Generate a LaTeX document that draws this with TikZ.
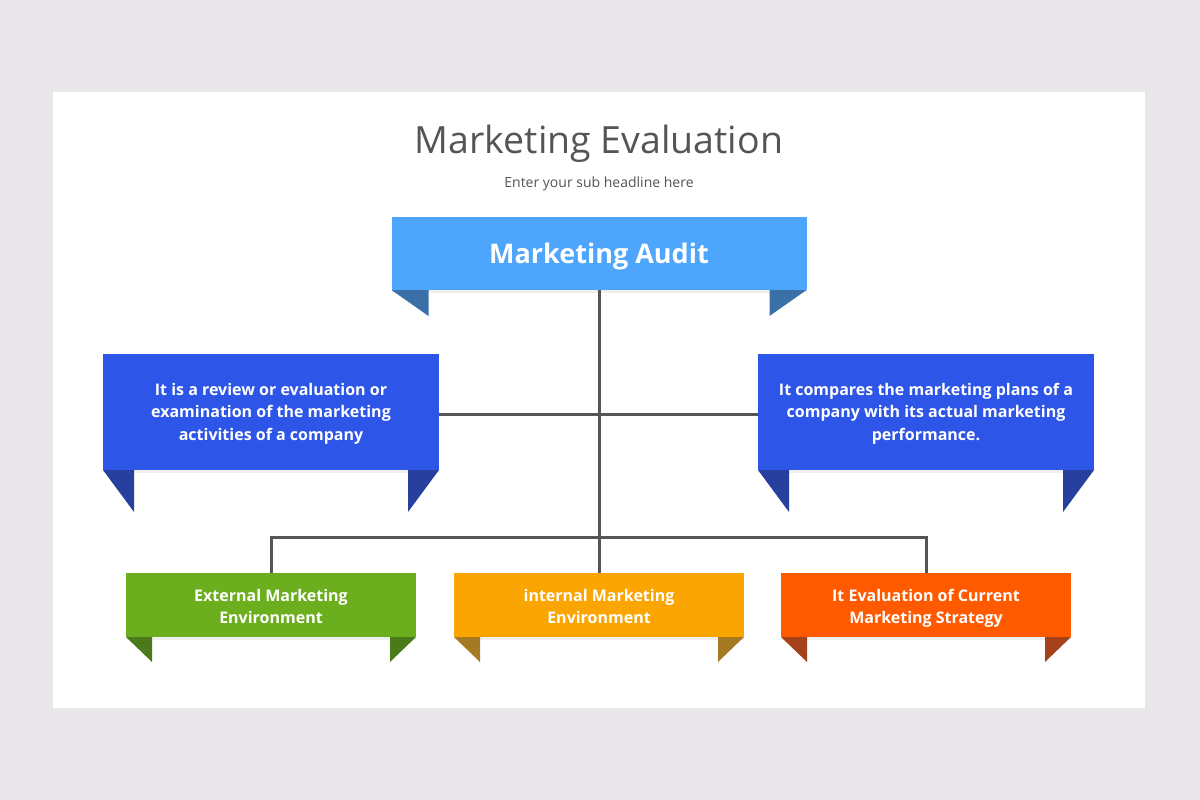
\documentclass[tikz,border=0pt]{standalone}
\usepackage{fontspec}
\setmainfont{Open Sans}
\usetikzlibrary{shadows}
\definecolor{bgc}{HTML}{E9E7E9}
\definecolor{titlec}{HTML}{555555}
\definecolor{linec}{HTML}{555555}
\definecolor{auditc}{HTML}{4DA5FC}
\definecolor{auditf}{HTML}{3B6FA8}
\definecolor{midc}{HTML}{2D55E8}
\definecolor{midf}{HTML}{27409E}
\definecolor{greenc}{HTML}{6BAE1E}
\definecolor{greenf}{HTML}{4B7A1B}
\definecolor{orangec}{HTML}{FBA503}
\definecolor{orangef}{HTML}{A67A22}
\definecolor{redc}{HTML}{FF5A00}
\definecolor{redf}{HTML}{A6421B}
\tikzset{
  box/.style={inner sep=0pt, outer sep=0pt,
    drop shadow={opacity=0.12, shadow xshift=0pt, shadow yshift=-3pt}},
  boxtext/.style={text=white, align=center, inner sep=0pt},
  midtext/.style={boxtext, font=\bfseries\fontsize{16}{22.5}\selectfont},
  lowtext/.style={boxtext, font=\bfseries\fontsize{16}{22}\selectfont},
  conn/.style={draw=linec, line width=3pt},
}
\begin{document}
\begin{tikzpicture}[x=1pt,y=-1pt]
\fill[bgc] (0,0) rectangle (1200,800);
\fill[white] (53,92) rectangle (1145,708);
\node[text=titlec, font=\fontsize{37.5}{42}\selectfont] (title) at (599,144) {Marketing Evaluation};
\node[text=titlec, font=\fontsize{14}{16}\selectfont] (sub) at (599,184) {Enter your sub headline here};

% boxes
\coordinate (j) at (599,537);
\node[box, fill=auditc, minimum width=415pt, minimum height=73pt] (audit) at (599,253.5) {};
\node[box, fill=midc, minimum width=336pt, minimum height=116pt] (left) at (271,412) {};
\node[box, fill=midc, minimum width=336pt, minimum height=116pt] (right) at (926,412) {};
\node[box, fill=greenc, minimum width=290pt, minimum height=64pt] (ext) at (271,605) {};
\node[box, fill=orangec, minimum width=290pt, minimum height=64pt] (int) at (599,605) {};
\node[box, fill=redc, minimum width=290pt, minimum height=64pt] (strat) at (926,605) {};

% texts
\node[boxtext, font=\bfseries\fontsize{27}{30}\selectfont] (audit-t) at ([yshift=-3pt]audit.center) {Marketing Audit};
\node[midtext] (left-t) at ([yshift=-3pt]left.center) {It is a review or evaluation or\\examination of the marketing\\activities of a company\strut};
\node[midtext] (right-t) at ([yshift=-3pt]right.center) {It compares the marketing plans of a\\company with its actual marketing\\performance.\strut};
\node[lowtext] (ext-t) at ([yshift=-4.5pt]ext.center) {External Marketing\\Environment\strut};
\node[lowtext] (int-t) at ([yshift=-4.5pt]int.center) {internal Marketing\\Environment\strut};
\node[lowtext] (strat-t) at ([yshift=-4.5pt]strat.center) {It Evaluation of Current\\Marketing Strategy\strut};

% connectors
\draw[conn] (audit.south) -- (int.north);
\draw[conn] (left.east |- 0,414) -- (right.west |- 0,414);
\draw[conn] (ext.north) |- (j) -| (strat.north);

% folds
\fill[auditf] (audit.south west) -- ++(37,0) -- ++(0,26) -- cycle;
\fill[auditf] (audit.south east) -- ++(-37,0) -- ++(0,26) -- cycle;
\fill[midf] (left.south west) -- ++(31,0) -- ++(0,42) -- cycle;
\fill[midf] (left.south east) -- ++(-31,0) -- ++(0,42) -- cycle;
\fill[midf] (right.south west) -- ++(31,0) -- ++(0,42) -- cycle;
\fill[midf] (right.south east) -- ++(-31,0) -- ++(0,42) -- cycle;
\fill[greenf] (ext.south west) -- ++(26,0) -- ++(0,25) -- cycle;
\fill[greenf] (ext.south east) -- ++(-26,0) -- ++(0,25) -- cycle;
\fill[orangef] (int.south west) -- ++(26,0) -- ++(0,25) -- cycle;
\fill[orangef] (int.south east) -- ++(-26,0) -- ++(0,25) -- cycle;
\fill[redf] (strat.south west) -- ++(26,0) -- ++(0,25) -- cycle;
\fill[redf] (strat.south east) -- ++(-26,0) -- ++(0,25) -- cycle;
\end{tikzpicture}
\end{document}
